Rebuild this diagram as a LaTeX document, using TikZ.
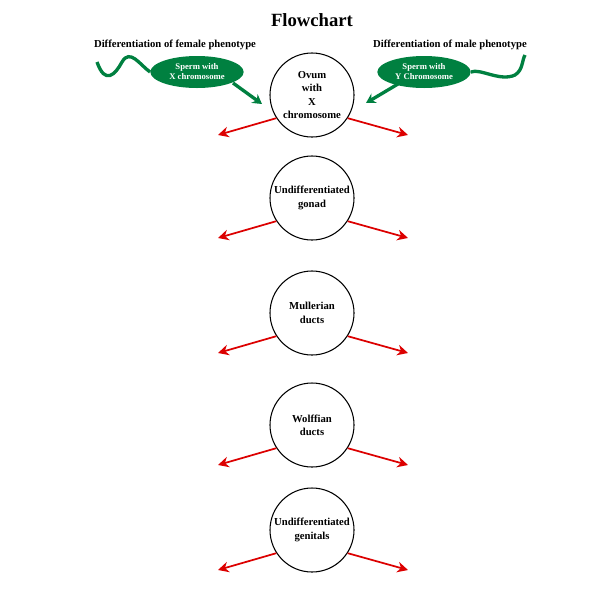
\documentclass[tikz,border=0pt]{standalone}
\usepackage{fontspec}
\setmainfont{Liberation Serif}
\usetikzlibrary{shapes.geometric}
\usetikzlibrary{arrows.meta,arrows}
\definecolor{spermgreen}{RGB}{0,128,64}
\definecolor{arrowred}{RGB}{220,0,0}
\begin{document}
\begin{tikzpicture}
[x=0.75pt,y=-0.75pt,
stage/.style ={circle, draw=black, thick, fill=white,
minimum size=63pt, inner sep=0pt, align=center,
font=\bfseries\fontsize{8}{10}\selectfont},
sperm/.style ={ellipse, fill=spermgreen, text=white, align=center,
minimum width=70pt, minimum height=24pt, inner sep=0pt,
font=\bfseries\fontsize{6.5}{7.5}\selectfont},
tail/.style ={draw=spermgreen, line width=2.5pt},
label/.style ={font=\bfseries\fontsize{8}{10}\selectfont},
red/.style ={draw=arrowred, line width=1.3pt, -{Stealth[length=8pt,width=8pt]}},
green/.style ={draw=spermgreen, line width=2.5pt, -{Stealth[length=7pt,width=8pt]}}]
\useasboundingbox (0,0) rectangle (602,593);
\node [font=\bfseries\fontsize{14}{16}\selectfont] (title) at (312,20) {Flowchart};
% stages
\node [stage] (ovum)    at (312,95)  {Ovum\\with\\X\\chromosome};
\node [stage] (gonad)   at (312,198) {Undifferentiated\\gonad};
\node [stage] (muller)  at (312,313) {Mullerian\\ducts};
\node [stage] (wolff)   at (312,425) {Wolffian\\ducts};
\node [stage] (genital) at (312,530) {Undifferentiated\\genitals};
% sperms
\node [label] (female) at (175,45) {Differentiation of female phenotype};
\node [label] (male)   at (450,45) {Differentiation of male phenotype};
\node [sperm] (spermX) at (197,72) {Sperm with\\X chromosome};
\node [sperm] (spermY) at (424,72) {Sperm with\\Y Chromosome};
\coordinate (tailX) at (97,62);
\coordinate (tailY) at (525,55);
\path [tail] (tailX) .. controls (105,85) and (115,75) .. (122,62)
  .. controls (130,48) and (140,65) .. (spermX.west);
\path [tail] (spermY.east) .. controls (480,68) and (500,82) .. (515,75)
  .. controls (523,70) and (522,60) .. (tailY);
\coordinate (inX) at (262,104);
\coordinate (inY) at (366,103);
\path [green] (233,83) -- (inX);
\path [green] (398,84) -- (inY);
% outgoing arrows
\foreach \s in {ovum,gonad,muller,wolff,genital}{
  \coordinate (\s-l) at ([shift={(-94,40)}]\s.center);
  \coordinate (\s-r) at ([shift={(96,40)}]\s.center);
  \path [red] (\s.213) -- (\s-l);
  \path [red] (\s.327) -- (\s-r);
}
\end{tikzpicture}
\end{document}
